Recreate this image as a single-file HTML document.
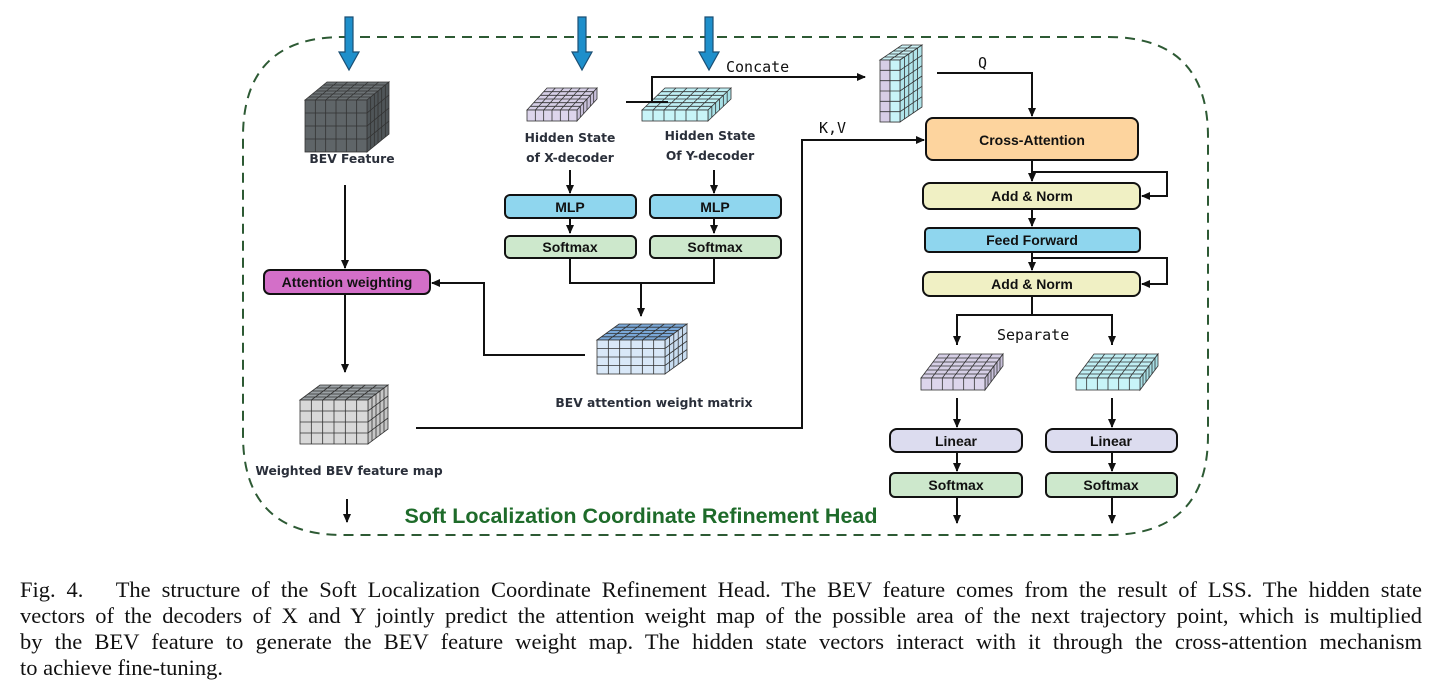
<!DOCTYPE html>
<html><head><meta charset="utf-8">
<style>
html,body{margin:0;padding:0;background:#fff;width:1440px;height:698px;overflow:hidden}
svg{position:absolute;left:0;top:0}
.cap{position:absolute;left:20px;width:1402px;font-family:"Liberation Serif",serif;font-size:22.5px;color:#111;white-space:nowrap;text-align:justify;text-align-last:justify;line-height:26px}
.lbl{font-family:"DejaVu Sans",sans-serif;font-weight:bold;font-size:12.3px;fill:#2a2f3a}
.bx{font-family:"Liberation Sans",sans-serif;font-weight:bold;font-size:14px;fill:#111}
.mono{font-family:"DejaVu Sans Mono","Liberation Mono",monospace;font-size:15px;fill:#111}
</style></head><body>
<svg id="s" width="1440" height="698" viewBox="0 0 1440 698">
<defs>
<marker id="ah" markerWidth="10" markerHeight="10" refX="8" refY="5" orient="auto" markerUnits="userSpaceOnUse"><path d="M0,1 L9,5 L0,9 Z" fill="#111"/></marker>
</defs>
<path d="M343,37 H1108 Q1208,37 1208,137 V435 Q1208,535 1108,535 H343 Q243,535 243,435 V137 Q243,37 343,37 Z" fill="none" stroke="#2d5a34" stroke-width="2" stroke-dasharray="10,7"/>
<g fill="#1e8fcb" stroke="#1b4f74" stroke-width="1.2">
<path d="M345,17 H353 V52 H359 L349,70 L339,52 H345 Z"/>
<path d="M578,17 H586 V52 H592 L582,70 L572,52 H578 Z"/>
<path d="M705,17 H713 V52 H719 L709,70 L699,52 H705 Z"/>
</g>
<g id="cubes"></g>
<g fill="none" stroke="#111" stroke-width="2">
<line x1="345" y1="185" x2="345" y2="268" marker-end="url(#ah)"/>
<line x1="345" y1="294" x2="345" y2="372" marker-end="url(#ah)"/>
<line x1="347" y1="499" x2="347" y2="522" marker-end="url(#ah)"/>
<polyline points="585,355 484,355 484,283 432,283" marker-end="url(#ah)"/>
<line x1="570" y1="170" x2="570" y2="193" marker-end="url(#ah)"/>
<line x1="714" y1="170" x2="714" y2="193" marker-end="url(#ah)"/>
<line x1="570" y1="218" x2="570" y2="233" marker-end="url(#ah)"/>
<line x1="714" y1="218" x2="714" y2="233" marker-end="url(#ah)"/>
<polyline points="570,258 570,283 714,283 714,258"/>
<line x1="641" y1="283" x2="641" y2="316" marker-end="url(#ah)"/>
<line x1="626" y1="102" x2="668" y2="102"/>
<polyline points="652,102 652,77 865,77" marker-end="url(#ah)"/>
<polyline points="937,73 1032,73 1032,116" marker-end="url(#ah)"/>
<polyline points="416,428 802,428 802,140 924,140" marker-end="url(#ah)"/>
<line x1="1032" y1="160" x2="1032" y2="181" marker-end="url(#ah)"/>
<polyline points="1032,172 1167,172 1167,196 1142,196" marker-end="url(#ah)"/>
<line x1="1032" y1="209" x2="1032" y2="226" marker-end="url(#ah)"/>
<line x1="1032" y1="252" x2="1032" y2="270" marker-end="url(#ah)"/>
<polyline points="1032,258 1167,258 1167,284 1142,284" marker-end="url(#ah)"/>
<polyline points="1032,296 1032,315"/>
<polyline points="957,345 957,315 1112,315 1112,345"/>
<line x1="957" y1="320" x2="957" y2="344" marker-end="url(#ah)"/>
<line x1="1112" y1="320" x2="1112" y2="344" marker-end="url(#ah)"/>
<line x1="957" y1="398" x2="957" y2="427" marker-end="url(#ah)"/>
<line x1="1112" y1="398" x2="1112" y2="427" marker-end="url(#ah)"/>
<line x1="957" y1="452" x2="957" y2="471" marker-end="url(#ah)"/>
<line x1="1112" y1="452" x2="1112" y2="471" marker-end="url(#ah)"/>
<line x1="957" y1="497" x2="957" y2="523" marker-end="url(#ah)"/>
<line x1="1112" y1="497" x2="1112" y2="523" marker-end="url(#ah)"/>
</g>
<g stroke="#111" stroke-width="2">
<rect x="264" y="270" width="166" height="24" rx="6" fill="#d36fc8"/>
<rect x="505" y="195" width="131" height="23" rx="5" fill="#8fd6ee"/>
<rect x="650" y="195" width="131" height="23" rx="5" fill="#8fd6ee"/>
<rect x="505" y="236" width="131" height="22" rx="5" fill="#cde8cc"/>
<rect x="650" y="236" width="131" height="22" rx="5" fill="#cde8cc"/>
<rect x="926" y="118" width="212" height="42" rx="7" fill="#fdd49e"/>
<rect x="923" y="183" width="217" height="26" rx="7" fill="#f0f0c4"/>
<rect x="925" y="228" width="215" height="24" rx="4" fill="#8fd6ee"/>
<rect x="923" y="272" width="217" height="24" rx="7" fill="#f0f0c4"/>
<rect x="890" y="429" width="132" height="23" rx="7" fill="#dcdcef"/>
<rect x="1046" y="429" width="131" height="23" rx="7" fill="#dcdcef"/>
<rect x="890" y="473" width="132" height="24" rx="5" fill="#cde8cc"/>
<rect x="1046" y="473" width="131" height="24" rx="5" fill="#cde8cc"/>
</g>
<g class="bx" text-anchor="middle">
<text x="347" y="287">Attention weighting</text>
<text x="570" y="212">MLP</text><text x="715" y="212">MLP</text>
<text x="570" y="252">Softmax</text><text x="715" y="252">Softmax</text>
<text x="1032" y="145">Cross-Attention</text>
<text x="1032" y="201">Add &amp; Norm</text>
<text x="1032" y="245">Feed Forward</text>
<text x="1032" y="289">Add &amp; Norm</text>
<text x="956" y="446">Linear</text><text x="1111" y="446">Linear</text>
<text x="956" y="490">Softmax</text><text x="1111" y="490">Softmax</text>
</g>
<g class="lbl" text-anchor="middle">
<text x="352" y="163">BEV Feature</text>
<text x="570" y="142">Hidden State</text><text x="570" y="162">of X-decoder</text>
<text x="710" y="140">Hidden State</text><text x="710" y="160">Of Y-decoder</text>
<text x="654" y="407">BEV attention weight matrix</text>
<text x="349" y="475">Weighted BEV feature map</text>
</g>
<g class="mono">
<text x="726" y="72">Concate</text>
<text x="978" y="68">Q</text>
<text x="819" y="133">K,V</text>
<text x="997" y="340">Separate</text>
</g>
<text x="641" y="523" text-anchor="middle" font-family="Liberation Sans,sans-serif" font-weight="bold" font-size="21.5" fill="#1e6b2a">Soft Localization Coordinate Refinement Head</text>
</svg>
<div class="cap" style="top:577px">Fig. 4. &nbsp; The structure of the Soft Localization Coordinate Refinement Head. The BEV feature comes from the result of LSS. The hidden state</div>
<div class="cap" style="top:603px">vectors of the decoders of X and Y jointly predict the attention weight map of the possible area of the next trajectory point, which is multiplied</div>
<div class="cap" style="top:629px">by the BEV feature to generate the BEV feature weight map. The hidden state vectors interact with it through the cross-attention mechanism</div>
<div class="cap" style="top:655px;text-align-last:left">to achieve fine-tuning.</div>
<script>
var NS="http://www.w3.org/2000/svg",g=document.getElementById("cubes");
function el(t,a){var e=document.createElementNS(NS,t);for(var k in a)e.setAttribute(k,a[k]);g.appendChild(e);return e;}
function cube(x,y,w,h,dx,dy,nx,ny,nz,cf,ct,cs){
 el("polygon",{points:[x,y,x+dx,y-dy,x+w+dx,y-dy,x+w,y].join(" "),fill:ct,stroke:"#333","stroke-width":"0.8"});
 el("polygon",{points:[x+w,y,x+w+dx,y-dy,x+w+dx,y+h-dy,x+w,y+h].join(" "),fill:cs,stroke:"#333","stroke-width":"0.8"});
 el("rect",{x:x,y:y,width:w,height:h,fill:cf,stroke:"#333","stroke-width":"0.8"});
 var i,p=[];
 for(i=1;i<nx;i++){var xx=x+w*i/nx;p.push("M"+xx+","+y+"V"+(y+h)+"M"+xx+","+y+"L"+(xx+dx)+","+(y-dy));}
 for(i=1;i<ny;i++){var yy=y+h*i/ny;p.push("M"+x+","+yy+"H"+(x+w)+"L"+(x+w+dx)+","+(yy-dy));}
 for(i=1;i<nz;i++){var ox=dx*i/nz,oy=dy*i/nz;p.push("M"+(x+ox)+","+(y-oy)+"H"+(x+w+ox)+"M"+(x+w+ox)+","+(y-oy)+"V"+(y+h-oy));}
 el("path",{d:p.join(""),fill:"none",stroke:"#333","stroke-width":"0.8"});
}
cube(305,100,62,52,22,18,6,4,6,"#5f6568","#6b7174","#4f5558");
cube(527,110,50,11,20,22,6,1,6,"#ddd5ec","#d6cfe6","#c8c0da");
cube(642,110,66,11,23,22,6,1,6,"#c8f4f8","#bfeff4","#a8e0e6");
cube(880,60,20,62,22,15,2,6,5,"#d7cde6","#c8f0f4","#b0e4ea");
cube(890,60,10,62,0,0,1,6,1,"#c8f4f8","#c8f4f8","#c8f4f8");
cube(597,340,68,34,22,16,6,4,5,"#d9e8f8","#7aa8d8","#c8dcf0");
cube(300,400,68,44,20,15,6,4,5,"#d8d8d8","#9ca2a6","#c6c6c6");
cube(921,378,64,12,18,24,6,1,6,"#ddd5ec","#d6cfe6","#c8c0da");
cube(1076,378,64,12,18,24,6,1,6,"#c8f4f8","#bfeff4","#a8e0e6");
</script>
</body></html>
